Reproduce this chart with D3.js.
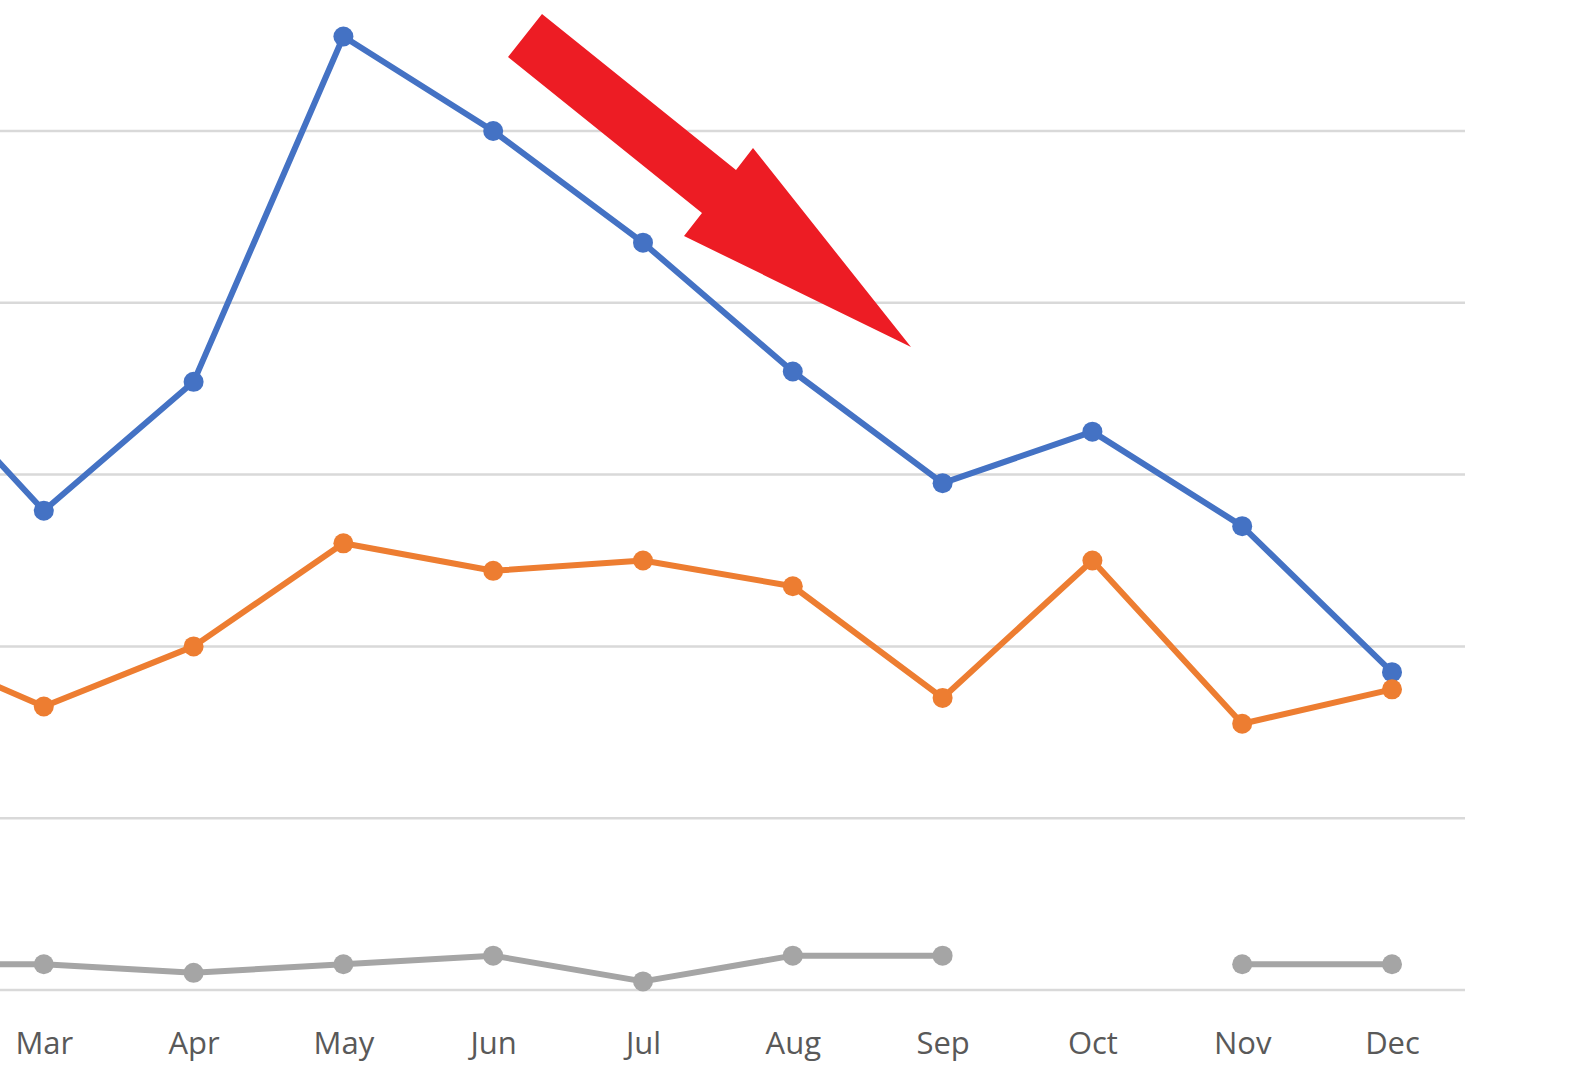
<!DOCTYPE html>
<html><head><meta charset="utf-8">
<script src="https://cdn.jsdelivr.net/npm/d3@7"></script>
<style>body{margin:0;background:#fff}svg{display:block}</style>
</head><body>
<svg id="c" width="1571" height="1089"></svg>
<script>
const months = ["Feb","Mar","Apr","May","Jun","Jul","Aug","Sep","Oct","Nov","Dec"];
const blue   = [3.73,2.79,3.54,5.55,5.0,4.35,3.6,2.95,3.25,2.70,1.85];
const orange = [2.03,1.65,2.0,2.6,2.44,2.5,2.35,1.70,2.5,1.55,1.75];
const gray   = [0.15,0.15,0.10,0.15,0.20,0.05,0.2,0.2,null,0.15,0.15];
const yTicks = [0,1,2,3,4,5];
const shownTicks = months.slice(1);

const svg = d3.select("#c");
const x = d3.scalePoint().domain(months).range([-106,1392]);
const y = d3.scaleLinear().domain([0,5]).range([990,131]);

svg.append("g").selectAll("line").data(yTicks).join("line")
  .attr("x1",0).attr("x2",1465).attr("y1",d=>y(d)).attr("y2",d=>y(d))
  .attr("stroke","#d9d9d9").attr("stroke-width",2.5);

const xa = svg.append("g").attr("transform","translate(0,990)")
  .call(d3.axisBottom(x).tickValues(shownTicks).tickSize(0).tickPadding(42));
xa.select(".domain").remove();
xa.selectAll("text").attr("font-family","'Open Sans', sans-serif").attr("font-size",31).attr("fill","#595959");

const series = [[blue,"#4472C4"],[orange,"#ED7D31"],[gray,"#A5A5A5"]];
series.forEach(([vals,col])=>{
  const pts = months.map((m,i)=>({m,v:vals[i]}));
  svg.append("path").datum(pts)
    .attr("d",d3.line().defined(d=>d.v!=null).x(d=>x(d.m)).y(d=>y(d.v)))
    .attr("fill","none").attr("stroke",col).attr("stroke-width",6).attr("stroke-linejoin","round");
  svg.append("g").selectAll("circle").data(pts.filter(d=>d.v!=null)).join("circle")
    .attr("cx",d=>x(d.m)).attr("cy",d=>y(d.v)).attr("r",10).attr("fill",col);
});

// annotation arrow
svg.append("path")
  .attr("d","M542,14 L508,57 L702,213 L684,236 L911,347 L753,148 L736,170 Z")
  .attr("fill","#ED1C24");
</script>
</body></html>
